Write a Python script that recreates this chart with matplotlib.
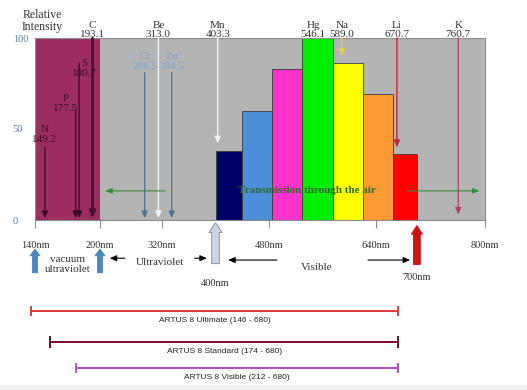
import numpy as np
import matplotlib
matplotlib.use('Agg')
import matplotlib.pyplot as plt
from matplotlib.patches import Rectangle

# ---------------- data ----------------
tick_wavelengths = [140, 200, 320, 480, 640, 800]
tick_labels = ['140nm', '200nm', '320nm', '480nm', '640nm', '800nm']
y_ticks = [0, 50, 100]

band_left = [400, 440, 485, 530, 575, 620, 665]
band_right = [440, 485, 530, 575, 620, 665, 700]
band_height = [38, 60, 83, 100, 86, 69, 36]

vuv_range = [140, 200]

top_elements = ['C', 'Be', 'Mn', 'Hg', 'Na', 'Li', 'K']
top_wavelengths = [193.1, 313.0, 403.3, 546.1, 589.0, 670.7, 760.7]
top_arrow_end = [1, 1, 42, None, 90, 40, 3]

inner_elements = ['N', 'P', 'S', 'Cr', 'Zn']
inner_wavelengths = [149.2, 177.5, 180.7, 286.5, 334.5]
inner_text_y = [42, 59, 78, 82, 82]
inner_arrow_start = [40, 60, 86, 81, 81]

range_names = ['ARTUS 8 Ultimate', 'ARTUS 8 Standard', 'ARTUS 8 Visible']
range_start = [146, 174, 212]
range_end = [680, 680, 680]

# ---------------- styles / layout ----------------
band_colors = ['#000066', '#4a8fd8', '#ff33cc', '#00ee00', '#ffff00', '#ff9933', '#ff0000']
top_arrow_colors = ['#4a1030', '#f2f2f2', '#f2f2f2', None, '#e8d040', '#c02838', '#b04060']
top_arrow_lw = [1.8, 1.0, 1.0, 0, 1.0, 1.0, 0.9]
inner_text_colors = ['#3a0a22', '#3a0a22', '#3a0a22', '#7aa2d0', '#7aa2d0']
inner_line_colors = ['#3a0a22', '#3a0a22', '#3a0a22', '#52708e', '#52708e']
inner_text_dx = [0, -7, 4, 0, 0]   # label nudges in points
range_colors = ['#e03a3a', '#7a0a2a', '#b050c0']
range_cap = [5, 6, 5]

# Schematic (non-linear) wavelength axis: tick positions in pixels across the box
tick_pixel_pos = [0, 65, 127, 234, 341, 450]

SERIF = 'Liberation Serif'

W, H = 527, 390
fig = plt.figure(figsize=(W / 100, H / 100), dpi=100)
fig.patch.set_facecolor('white')
fig.patches.append(Rectangle((0, 0), 1, 5 / H, transform=fig.transFigure,
                             facecolor='#f1f1f1', edgecolor='none'))

ax = fig.add_axes([35 / W, 170 / H, 450 / W, 182 / H])

wl_ext = np.array([-10000] + tick_wavelengths + [10000], dtype=float)
px = np.array(tick_pixel_pos, dtype=float)
s0 = (px[1] - px[0]) / (tick_wavelengths[1] - tick_wavelengths[0])
s1 = (px[-1] - px[-2]) / (tick_wavelengths[-1] - tick_wavelengths[-2])
px_ext = np.concatenate([[px[0] - s0 * (tick_wavelengths[0] + 10000)], px,
                         [px[-1] + s1 * (10000 - tick_wavelengths[-1])]])


def fwd(x):
    return np.interp(x, wl_ext, px_ext)


def inv(y):
    return np.interp(y, px_ext, wl_ext)


ax.set_xscale('function', functions=(fwd, inv))
ax.set_xlim(140, 800)
ax.set_ylim(0, 100)
ax.set_facecolor('#b4b4b4')

# vacuum-UV region
ax.bar(vuv_range[0], 100, width=vuv_range[1] - vuv_range[0], align='edge',
       color='#9c2d60', edgecolor='none', zorder=1)

# visible colour bands
for l, r, h, c in zip(band_left, band_right, band_height, band_colors):
    ax.bar(l, h, width=r - l, align='edge', color=c, edgecolor='#3a3a3a',
           linewidth=0.6, zorder=2)

# top element labels and arrows
for name, wl, end, col, lw in zip(top_elements, top_wavelengths, top_arrow_end,
                                  top_arrow_colors, top_arrow_lw):
    ax.text(wl, 99.3, f'{name}\n{wl:.1f}', ha='center', va='bottom',
            fontsize=8, family=SERIF, color='#333333', linespacing=1.1,
            clip_on=False)
    if end is not None:
        ax.annotate('', xy=(wl, end), xytext=(wl, 100),
                    arrowprops=dict(arrowstyle='-|>,head_length=0.5,head_width=0.22',
                                    color=col, lw=lw, shrinkA=0, shrinkB=0,
                                    mutation_scale=8), zorder=3)

# inner element labels and arrows
for name, wl, ty, ys, tc, lc, dx in zip(inner_elements, inner_wavelengths, inner_text_y,
                                        inner_arrow_start, inner_text_colors,
                                        inner_line_colors, inner_text_dx):
    ax.annotate('', xy=(wl, 1), xytext=(wl, ys),
                arrowprops=dict(arrowstyle='-|>,head_length=0.5,head_width=0.22',
                                color=lc, lw=0.9, shrinkA=0, shrinkB=0,
                                mutation_scale=8), zorder=3)
    ax.annotate(f'{name}\n{wl:.1f}', xy=(wl, ty), xytext=(dx, 0),
                textcoords='offset points', ha='center', va='bottom', fontsize=8,
                family=SERIF, color=tc, linespacing=1.1, zorder=4)

ax.text(147, 102.5, 'Relative\nIntensity', ha='center', va='bottom', fontsize=8.5,
        family=SERIF, color='#333333', linespacing=1.05, clip_on=False)

# transmission through the air
green = '#3a8a3a'
ax.annotate('', xy=(210, 16), xytext=(325, 16),
            arrowprops=dict(arrowstyle='-|>,head_length=0.5,head_width=0.2',
                            color=green, lw=0.8, shrinkA=0, shrinkB=0,
                            mutation_scale=8), zorder=3)
ax.annotate('', xy=(792, 16), xytext=(686, 16),
            arrowprops=dict(arrowstyle='-|>,head_length=0.5,head_width=0.2',
                            color=green, lw=0.8, shrinkA=0, shrinkB=0,
                            mutation_scale=8), zorder=3)
ax.text(537, 16, 'Transmission through the air', ha='center', va='center',
        fontsize=8, family=SERIF, fontweight='bold', color='#2e6a2e', zorder=4)

# axes styling
for sp in ax.spines.values():
    sp.set_color('#8c8c8c')
    sp.set_linewidth(0.8)
ax.set_xticks(tick_wavelengths)
ax.set_xticklabels(tick_labels, family=SERIF, fontsize=7.5, color='#333333')
ax.tick_params(axis='x', length=6, width=0.8, color='#8c8c8c', pad=9)
ax.minorticks_off()
ax.set_yticks(y_ticks)
ax.set_yticklabels([str(v) for v in y_ticks], family=SERIF, fontsize=7.5,
                   color='#607a98')
ax.tick_params(axis='y', length=0, pad=16)
for lab in ax.get_yticklabels():
    lab.set_ha('left')


# below-axis annotations
def fat_arrow(x, y0, y1, fc, ec, ms, hw, tw, hl):
    ax.annotate('', xy=(x, y1), xytext=(x, y0), annotation_clip=False,
                arrowprops=dict(arrowstyle=f'simple,head_length={hl},head_width={hw},tail_width={tw}',
                                fc=fc, ec=ec, lw=0.6, mutation_scale=ms,
                                shrinkA=0, shrinkB=0))


def thin_arrow(x0, x1, y):
    ax.annotate('', xy=(x1, y), xytext=(x0, y), annotation_clip=False,
                arrowprops=dict(arrowstyle='-|>,head_length=0.5,head_width=0.22',
                                color='black', lw=0.8, mutation_scale=8,
                                shrinkA=0, shrinkB=0))


fat_arrow(140, -29, -16, '#4a86c0', '#4a86c0', 8, 0.9, 0.45, 0.6)
fat_arrow(200, -29, -16, '#4a86c0', '#4a86c0', 8, 0.9, 0.45, 0.6)
fat_arrow(400, -24, -1.5, '#c9d5e3', '#7a8a9a', 10, 0.95, 0.55, 0.7)
fat_arrow(700, -24.5, -3, '#cc1515', '#cc1515', 9, 0.9, 0.55, 0.7)

ax.text(170, -24.5, 'vacuum\nultraviolet', ha='center', va='center', fontsize=8,
        family=SERIF, color='#333333', linespacing=1.1, clip_on=False)
thin_arrow(248, 219, -21)
ax.text(316, -23.5, 'Ultraviolet', ha='center', va='center', fontsize=8,
        family=SERIF, color='#333333', clip_on=False)
thin_arrow(369, 387, -21)
ax.text(400, -35, '400nm', ha='center', va='center', fontsize=7.5,
        family=SERIF, color='#333333', clip_on=False)
thin_arrow(492, 419, -22)
ax.text(552, -26, 'Visible', ha='center', va='center', fontsize=8,
        family=SERIF, color='#333333', clip_on=False)
thin_arrow(628, 690, -22)
ax.text(700, -31.5, '700nm', ha='center', va='center', fontsize=7.5,
        family=SERIF, color='#333333', clip_on=False)

# ---------------- ARTUS range bars ----------------
ax2 = fig.add_axes([0, 5 / H, 1, 90 / H])
slope = (398 - 31) / (680 - 146)
ax2.set_xlim(146 - 31 / slope, 146 + (W - 31) / slope)
ax2.set_ylim(90, 0)  # pixel rows from y=295 downward
ax2.axis('off')
row_y = [16, 47, 73]
for name, s, e, c, cap, y in zip(range_names, range_start, range_end,
                                 range_colors, range_cap, row_y):
    ax2.plot([s, e], [y, y], color=c, lw=1.4, solid_capstyle='butt')
    ax2.vlines([s, e], y - cap, y + cap, color=c, lw=1.4)
    ax2.text((s + e) / 2, y + 9.5, f'{name} ({s} - {e})', ha='center', va='center',
             fontsize=6, family='Liberation Sans', color='#222222')

fig.savefig('out.png', dpi=100)
